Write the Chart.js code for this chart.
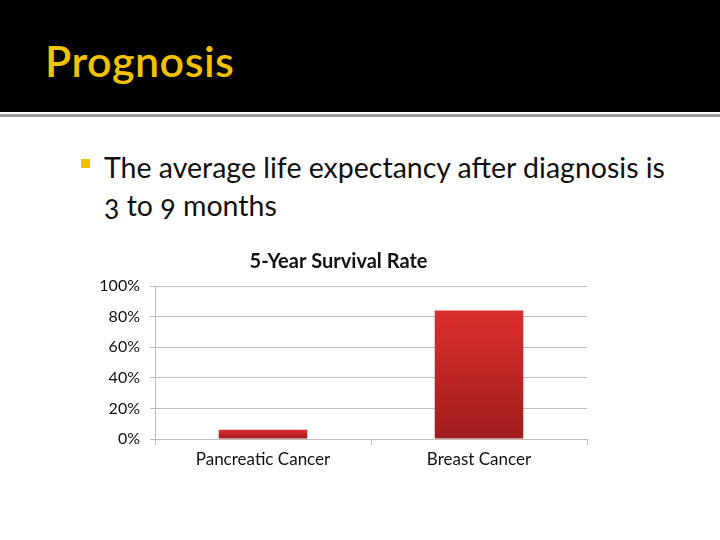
<!DOCTYPE html>
<html>
<head>
<title>Prognosis</title>
<style>
  body { margin: 0; width: 720px; height: 540px; background: #fff; position: relative; overflow: hidden; font-family: Lato, "Open Sans", sans-serif; }
  #header { position: absolute; left: 0; top: 0; width: 720px; height: 112px; background: #000; }
  #header h1 { position: absolute; left: 45px; top: 35px; margin: 0; font-size: 43px; font-weight: 600; color: #F2C200; letter-spacing: 0.5px; }
  #rule { position: absolute; left: 0; top: 114px; width: 720px; height: 3px; background: #9a9a9a; }
  #bullet { position: absolute; left: 81px; top: 159px; width: 9px; height: 9px; background: #F2C200; }
  #text { position: absolute; left: 104px; top: 148px; width: 610px; font-size: 28.5px; line-height: 38px; color: #111; font-feature-settings: "onum"; }
  .container { position: absolute; left: 90px; top: 245px; width: 510px; height: 235px; }
</style>
</head>
<body>
  <div id="header"><h1>Prognosis</h1></div>
  <div id="rule"></div>
  <div id="bullet"></div>
  <div id="text">The average life expectancy after diagnosis is<br>3 to 9 months</div>
  <div class="container">
    <canvas id="survival"></canvas>
  </div>

  <script src="https://cdn.jsdelivr.net/npm/chart.js@4/dist/chart.umd.min.js"></script>
  <script>
    const categories = ['Pancreatic Cancer', 'Breast Cancer'];
    const survivalRate = [6, 84];
    const yTicks = [0, 20, 40, 60, 80, 100];

    const context = document.getElementById('survival').getContext('2d');

    // gradient runs over each bar on its own, top to base
    function barGradient(ctx) {
      const chart = ctx.chart;
      if (!chart.chartArea || ctx.type !== 'data') return '#c62828';
      const y = chart.scales.y;
      const top = y.getPixelForValue(ctx.raw);
      const base = y.getPixelForValue(0);
      const g = chart.ctx.createLinearGradient(0, top, 0, base);
      g.addColorStop(0, '#DC2E2E');
      g.addColorStop(1, '#A01D1D');
      return g;
    }

    new Chart(context, {
      type: 'bar',
      data: {
        labels: categories,
        datasets: [{
          label: '5-Year Survival Rate',
          data: survivalRate,
          backgroundColor: barGradient,
          borderWidth: 0,
          categoryPercentage: 1,
          barPercentage: 0.41
        }]
      },
      options: {
        responsive: true,
        maintainAspectRatio: false,
        animation: false,
        layout: { padding: { top: 0, right: 13, left: 0, bottom: 0 } },
        plugins: {
          legend: { display: false },
          tooltip: { enabled: false },
          title: {
            display: true,
            text: '5-Year Survival Rate',
            color: '#111',
            font: { family: 'Lato', size: 20, weight: 'bold' },
            padding: { top: 5, bottom: 12 }
          }
        },
        scales: {
          x: {
            grid: { display: true, drawOnChartArea: false, drawTicks: true, tickLength: 6, color: '#bdbdbd' },
            border: { color: '#bdbdbd' },
            ticks: { color: '#111', font: { family: 'Lato', size: 17 }, padding: 4 },
            afterFit: (s) => { s.height = 41; }
          },
          y: {
            min: 0,
            max: 100,
            afterBuildTicks: (s) => { s.ticks = yTicks.map(v => ({ value: v })); },
            grid: { color: '#bdbdbd', tickLength: 5 },
            border: { color: '#bdbdbd' },
            ticks: {
              color: '#111',
              font: { family: 'Lato', size: 16 },
              padding: 10,
              callback: (v) => v + '%'
            },
            afterFit: (s) => { s.width = 65; }
          }
        }
      }
    });
  </script>
</body>
</html>
